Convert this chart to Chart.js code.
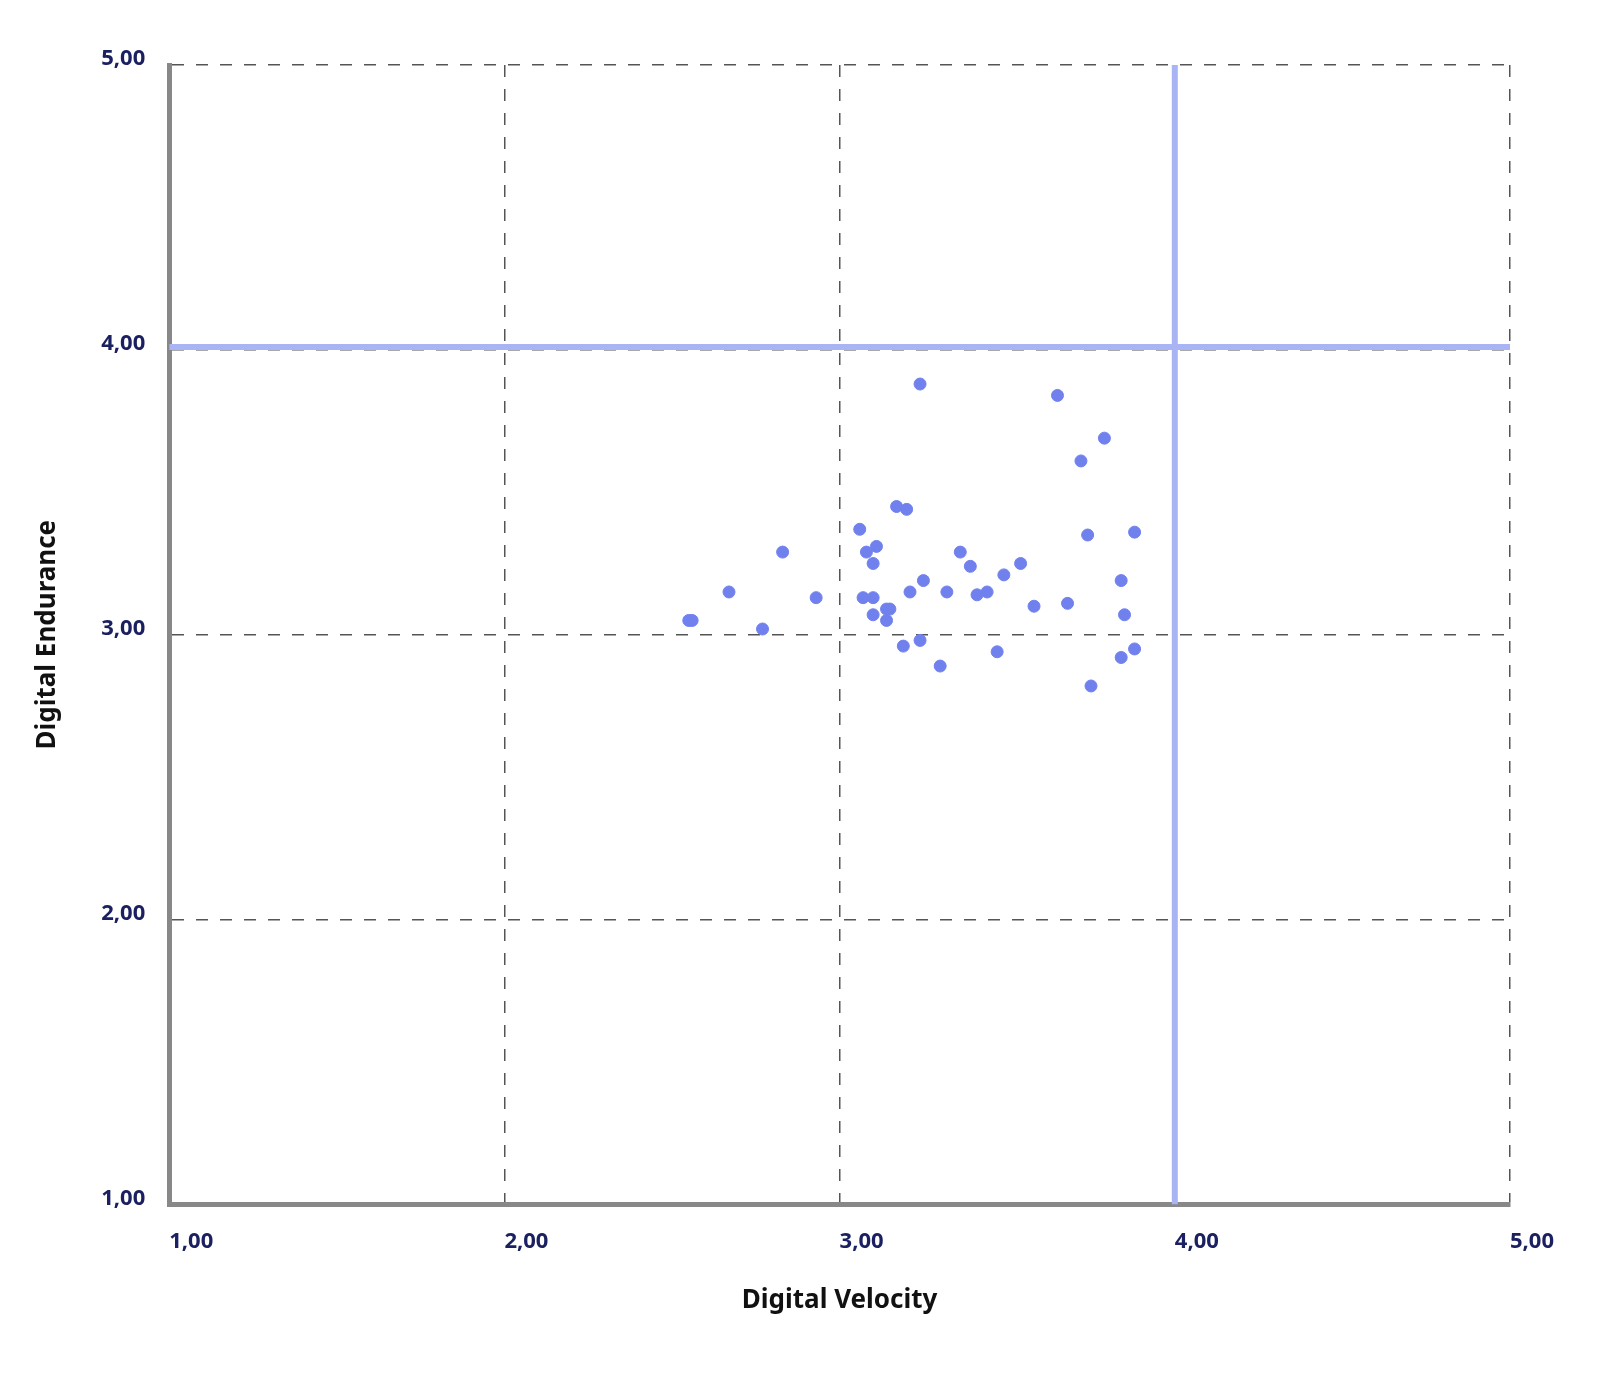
<!DOCTYPE html>
<html>
<head>
<meta charset="utf-8">
<script src="https://cdn.jsdelivr.net/npm/chart.js@4"></script>
<style>
  html, body { margin: 0; background: #fff; }
  #wrap { width: 1600px; height: 1382px; }
</style>
</head>
<body>
<div id="wrap"><canvas id="chart"></canvas></div>
<script>
// --- Datos ---
const velocity = [3.24,3.65,3.79,3.72,3.17,3.20,3.06,3.74,3.88,2.83,3.08,3.11,3.10,3.36,3.39,3.54,3.49,3.25,3.21,3.32,3.44,3.41,3.84,2.67,2.93,3.07,3.10,3.58,3.68,3.14,3.15,3.10,3.14,3.85,2.55,2.56,2.77,3.19,3.24,3.30,3.47,3.84,3.88,3.75];
const endurance = [3.88,3.84,3.69,3.61,3.45,3.44,3.37,3.35,3.36,3.29,3.29,3.31,3.25,3.29,3.24,3.25,3.21,3.19,3.15,3.15,3.15,3.14,3.19,3.15,3.13,3.13,3.13,3.10,3.11,3.09,3.09,3.07,3.05,3.07,3.05,3.05,3.02,2.96,2.98,2.89,2.94,2.92,2.95,2.82];
const thresholdX = 4.0;
const thresholdY = 4.01;
const axisTicks = [1, 2, 3, 4, 5];

const el = (id) => document.getElementById(id);
const fmt = (v) => v.toFixed(2).replace('.', ',');

const points = velocity.map((x, i) => ({ x, y: endurance[i] }));
const lineColor = "#a9b4f5";

new Chart(el("chart").getContext("2d"), {
  type: "scatter",
  data: {
    datasets: [
      {
        data: points,
        backgroundColor: "#7081ee",
        borderColor: "#7081ee",
        pointRadius: 6,
        order: 0,
      },
      {
        type: "line",
        data: [{ x: 1, y: thresholdY }, { x: 5, y: thresholdY }],
        borderColor: lineColor, borderWidth: 6, pointRadius: 0, order: 1,
      },
      {
        type: "line",
        data: [{ x: thresholdX, y: 1 }, { x: thresholdX, y: 5 }],
        borderColor: lineColor, borderWidth: 6, pointRadius: 0, order: 1,
      },
    ],
  },
  options: {
    responsive: true,
    maintainAspectRatio: false,
    animation: false,
    layout: { padding: { top: 65, right: 90, bottom: 62, left: 28 } },
    plugins: { legend: { display: false }, tooltip: { enabled: false } },
    scales: {
      x: {
        type: "linear", min: 1, max: 5,
        afterBuildTicks: (s) => { s.ticks = axisTicks.map((v) => ({ value: v })); },
        grid: { color: "#555", lineWidth: 1.5, drawTicks: false },
        border: { color: "#888", width: 5, dash: [12, 12] },
        ticks: {
          callback: fmt, color: "#1a2060", padding: 24,
          font: { family: "Noto Sans", size: 22, weight: "bold" },
          align: "start",
        },
        title: {
          display: true, text: "Digital Velocity", color: "#111",
          font: { family: "Noto Sans", size: 26, weight: "bold" }, padding: { top: 6 },
        },
      },
      y: {
        type: "linear", min: 1, max: 5,
        afterBuildTicks: (s) => { s.ticks = axisTicks.map((v) => ({ value: v })); },
        grid: { color: "#555", lineWidth: 1.5, drawTicks: false },
        border: { color: "#888", width: 5, dash: [12, 12] },
        ticks: {
          callback: fmt, color: "#1a2060", padding: 24, labelOffset: -6,
          font: { family: "Noto Sans", size: 22, weight: "bold" },
        },
        title: {
          display: true, text: "Digital Endurance", color: "#111",
          font: { family: "Noto Sans", size: 26, weight: "bold" }, padding: { bottom: 14 },
        },
      },
    },
  },
});
</script>
</body>
</html>
